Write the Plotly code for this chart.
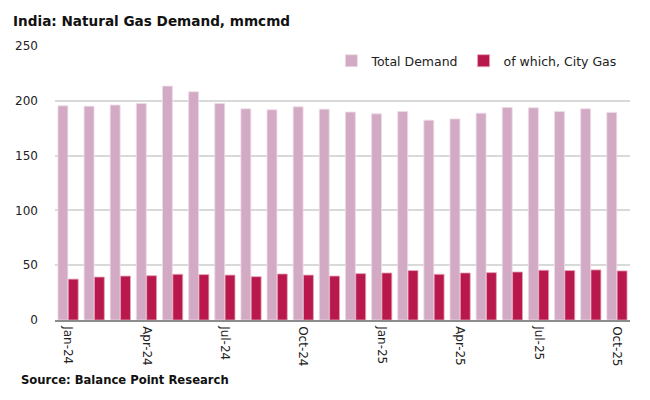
import plotly.graph_objects as go

months = ["Jan-24", "Feb-24", "Mar-24", "Apr-24", "May-24", "Jun-24", "Jul-24", "Aug-24",
          "Sep-24", "Oct-24", "Nov-24", "Dec-24", "Jan-25", "Feb-25", "Mar-25", "Apr-25",
          "May-25", "Jun-25", "Jul-25", "Aug-25", "Sep-25", "Oct-25"]
total_demand = [195.4, 195.1, 196.1, 197.6, 213.4, 208.2, 197.6, 192.7, 191.8, 194.5, 192.4,
                189.7, 188.1, 190.3, 182.3, 183.5, 188.7, 194.0, 193.6, 190.3, 192.7, 189.4]
city_gas = [37.3, 39.2, 40.1, 40.4, 41.7, 41.4, 41.0, 39.5, 42.0, 41.0, 40.1,
            42.3, 42.9, 45.1, 41.7, 42.9, 43.2, 43.8, 45.4, 45.1, 45.7, 44.8]
tick_labels = ["Jan-24", "Apr-24", "Jul-24", "Oct-24", "Jan-25", "Apr-25", "Jul-25", "Oct-25"]
y_ticks = [0, 50, 100, 150, 200, 250]

FONT = "DejaVu Sans"

fig = go.Figure()
fig.add_trace(go.Bar(x=months, y=total_demand, name="Total Demand",
                     marker=dict(color="#D3AAC4", line=dict(color="#EEDCE6", width=0.8))))
fig.add_trace(go.Bar(x=months, y=city_gas, name="of which, City Gas",
                     marker=dict(color="#B8184C", line=dict(color="#E3A3B8", width=0.8))))

fig.update_layout(
    width=650, height=400,
    margin=dict(l=55, r=20, t=46, b=80),
    paper_bgcolor="white", plot_bgcolor="white",
    barmode="group", bargap=0.21, bargroupgap=0.04,
    font=dict(family=FONT, size=12, color="#222222"),
    title=dict(text="<b>India: Natural Gas Demand, mmcmd</b>",
               font=dict(family=FONT, size=13.6, color="#111111"),
               x=13/650, xanchor="left", xref="container",
               y=1-21/400, yanchor="middle", yref="container"),
    legend=dict(orientation="h", x=0.985, xanchor="right", y=0.945, yanchor="middle",
                bgcolor="rgba(0,0,0,0)", font=dict(size=12.5, color="#222222"),
                itemwidth=30, traceorder="normal"),
    showlegend=True,
)
fig.update_xaxes(
    type="category", range=[-0.5, len(months) - 0.5],
    tickmode="array", tickvals=tick_labels, ticktext=tick_labels,
    tickangle=90, showline=True, linecolor="#8c8c8c", linewidth=1.5,
    ticks="", showgrid=False, ticklabelstandoff=2,
    tickfont=dict(size=12, color="#222222"),
)
fig.update_yaxes(
    range=[0, 250], tickmode="array", tickvals=y_ticks,
    showgrid=True, gridcolor="#d9d9d9", gridwidth=1.5,
    showline=False, zeroline=False, ticks="", ticklabelstandoff=16,
    tickfont=dict(size=12, color="#222222"),
)
fig.add_annotation(text="<b>Source: Balance Point Research</b>", xref="paper", yref="paper",
                   x=(19-55)/575, y=(320-380)/274, xanchor="left", yanchor="middle",
                   showarrow=False, font=dict(family=FONT, size=11.6, color="#111111"))

fig.write_html("out.html")
